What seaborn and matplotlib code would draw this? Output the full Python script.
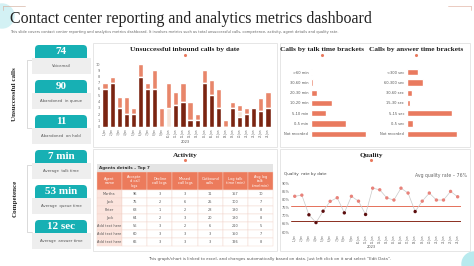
import matplotlib.pyplot as plt
import seaborn as sns
import numpy as np
import pandas as pd
from matplotlib.patches import Rectangle, FancyBboxPatch, Circle

sns.set_theme(style="white")
plt.rcParams['font.family'] = ['DejaVu Sans']

# ---- data ----
kpi_values = ["74", "90", "11", "7 min", "53 min", "12 sec"]
kpi_labels = ["Voicemail", "Abandoned  in queue", "Abandoned  on hold",
              "Average  talk time", "Average  queue time", "Average  answer time"]

bar_dates = ["1-Jan", "2-Jan", "3-Jan", "4-Jan", "5-Jan", "6-Jan", "7-Jan", "8-Jan",
             "9-Jan", "10-Jan", "11-Jan", "12-Jan", "13-Jan", "14-Jan", "15-Jan", "16-Jan",
             "17-Jan", "18-Jan", "19-Jan", "20-Jan", "21-Jan", "22-Jan", "23-Jan", "24-Jan"]
dark_calls = [6, 7, 3, 2, 2, 8, 6, 6, 0, 0, 3.5, 4, 1, 1, 7, 5, 3, 0, 3, 1.5, 2, 3, 2.5, 3]
pale_calls = [0, 0, 0, 0, 0, 0, 0, 0, 0, 3, 0, 0, 0, 0, 0, 0, 0, 0, 0, 1, 0, 0, 0, 0]
light_calls = [1, 1, 1.8, 2.8, 1, 2, 1, 3, 3, 4, 2, 3, 3, 1, 2, 2.5, 3, 1, 1, 1, 1, 0, 2, 2.5]

talk_brackets = [">60 min", "30-60 min", "20-30 min", "10-20 min", "5-10 min", "0-5 min", "Not recorded"]
talk_calls = [1, 3, 10, 37, 27, 63, 98]
answer_brackets = ["<300 sec", "60-300 sec", "30-60 sec", "15-30 sec", "5-15 sec", "0-5 sec", "Not recorded"]
answer_calls = [22, 31, 10, 6, 88, 12, 98]

table_cols = ["Agent\nname", "Accepte\nd call\nlogs", "Decline\ncall logs", "Missed\ncall logs",
              "Outbound\ncalls", "Log talk\ntime (min)", "Avg log\ntalk\ntime(min)"]
agents = ["Martha", "Jack", "Peter", "Jack", "Add text here", "Add text here", "Add text here"]
accepted = [96, 75, 63, 64, 56, 60, 66]
declined = [3, 2, 1, 2, 3, 3, 3]
missed = [3, 6, 2, 3, 2, 3, 3]
outbound = [11, 25, 28, 20, 6, 3, 3]
log_talk = [157, 100, 180, 180, 210, 150, 196]
avg_talk = [10, 7, 8, 8, 5, 7, 8]

q_dates = bar_dates
quality = [82, 82.7, 70.6, 65.8, 72.8, 78.9, 81.1, 71.8, 82, 79, 70.8, 87,
           86, 81, 79.7, 87, 84, 72.6, 79, 84, 79.7, 79.7, 85, 81.7]
avg_quality = 76
low_quality = 67

# ---- colours ----
teal = "#17b0b4"
dark_c, pale_c, light_c = "#7a2411", "#f6e4d8", "#e8866a"
bar_c = "#e97a5f"
W, H = 474, 266

fig = plt.figure(figsize=(4.74, 2.66), dpi=100)


def box(x0, y0, x1, y1):
    return [x0 / W, 1 - y1 / H, (x1 - x0) / W, (y1 - y0) / H]


deco = fig.add_axes([0, 0, 1, 1])
deco.set_xlim(0, W)
deco.set_ylim(H, 0)
deco.axis('off')

# decorations
deco.add_patch(Circle((2, 16), 12, color="#d3f1f4", zorder=0))
deco.add_patch(Circle((474, 264), 12, color="#b8eaee", zorder=0))
deco.plot([3, 25], [6, 6], color="#d8b6a6", lw=0.5)
deco.plot([3, 3], [6, 10], color="#d8b6a6", lw=0.5)
deco.plot([448, 471], [6, 6], color="#e3b6a8", lw=0.5)
deco.plot([471, 471], [6, 10], color="#e3b6a8", lw=0.5)

deco.text(10, 19, "Contact center reporting and analytics metrics dashboard",
          family="Liberation Serif", fontsize=11.4, color="#222222", va="center")
deco.text(10, 32, "This slide covers contact center reporting and analytics metrics dashboard. "
          "It involves metrics such as total unsuccessful calls, competence, activity, "
          "agent details and quality rate.", fontsize=2.6, color="#666666", va="center")

# KPI tiles
for i, (v, lab) in enumerate(zip(kpi_values, kpi_labels)):
    top = 45 + 35 * i
    deco.add_patch(FancyBboxPatch((35, top), 52, 17, boxstyle="round,pad=0,rounding_size=4",
                                  fc=teal, ec="none", zorder=2))
    deco.add_patch(Rectangle((32, top + 13), 59, 15.5, fc="#eeeeee", ec="none", zorder=3))
    deco.text(61, top + 6.8, v, family="Liberation Serif", weight="bold", fontsize=8,
              color="white", ha="center", va="center", zorder=4)
    deco.text(61, top + 20.8, lab, fontsize=2.8, color="#555555", ha="center", va="center", zorder=4)

for y0, y1, txt in [(60, 128, "Unsuccessful calls"), (165, 232, "Competence")]:
    deco.plot([32, 27, 27, 32], [y0, y0, y1, y1], color="#cccccc", lw=0.5)
    deco.text(15, (y0 + y1) / 2, txt, family="Liberation Serif", weight="bold", fontsize=5,
              rotation=90, ha="center", va="center", color="#222222")

# panels
for x0, y0, x1, y1 in [(93, 43, 277, 147), (280, 43, 470, 147), (93, 149, 277, 251), (280, 149, 470, 251)]:
    deco.add_patch(Rectangle((x0, y0), x1 - x0, y1 - y0, fc="white", ec="#e2e2e2", lw=0.6, zorder=1))

titles = [(185, 50, "Unsuccessful inbound calls by date"), (322, 50, "Calls by talk time brackets"),
          (416, 50, "Calls by answer time brackets"), (185, 155, "Activity"), (371, 155, "Quality")]
for x, y, t in titles:
    deco.text(x, y, t, family="Liberation Serif", weight="bold", fontsize=5.3,
              ha="center", va="center", color="#222222", zorder=5)
    deco.scatter([x], [y + 5], s=1.5, color=bar_c, zorder=5)

# stacked bars (overlaid cumulative totals)
calls = pd.DataFrame({"date": bar_dates, "dark": dark_calls, "pale": pale_calls, "light": light_calls})
calls["mid"] = calls["dark"] + calls["pale"]
calls["total"] = calls["mid"] + calls["light"]
ax1 = fig.add_axes(box(101.5, 64, 271.5, 126.5))
sns.barplot(data=calls, x="date", y="total", color=light_c, saturation=1, width=0.72, ax=ax1)
sns.barplot(data=calls, x="date", y="mid", color=pale_c, saturation=1, width=0.72, ax=ax1)
sns.barplot(data=calls, x="date", y="dark", color=dark_c, saturation=1, width=0.72, ax=ax1)
ax1.set_ylim(0, 10)
ax1.set_yticks(range(0, 11))
ax1.tick_params(axis="y", labelsize=2.5, pad=1, length=0, labelcolor="#666666")
ax1.tick_params(axis="x", labelsize=1.9, rotation=90, pad=1.5, length=0, labelcolor="#666666")
ax1.set_xlabel("")
ax1.set_ylabel("")
sns.despine(ax=ax1, left=True, bottom=True)
ax1.patch.set_alpha(0)
deco.text(185, 142, "2023", fontsize=2.6, ha="center", va="center", color="#555555", zorder=5)

# horizontal bracket bars
for rect, cats, vals in [((311, 67, 367, 139), talk_brackets, talk_calls),
                         ((407, 67, 458, 139), answer_brackets, answer_calls)]:
    ax = fig.add_axes(box(*rect))
    sns.barplot(x=vals, y=cats, orient="h", color=bar_c, saturation=1, width=0.6, ax=ax)
    ax.set_xlim(0, 100)
    ax.set_xticks([])
    ax.tick_params(axis="y", labelsize=2.6, pad=2, length=0, labelcolor="#555555")
    ax.set_xlabel("")
    ax.set_ylabel("")
    sns.despine(ax=ax, left=True, bottom=True)
    ax.patch.set_alpha(0)

# activity table
deco.add_patch(Rectangle((96.7, 164), 176.6, 8, fc="#e4e4e4", ec="none", zorder=5))
deco.text(99, 168, "Agents details \u2013 Top 7", fontsize=3, weight="bold", color="#333333",
          va="center", zorder=6)
ax_t = fig.add_axes(box(96.7, 172, 273.3, 246))
ax_t.axis("off")
rows = [[a, b, c, d, e, f, g] for a, b, c, d, e, f, g in
        zip(agents, accepted, declined, missed, outbound, log_talk, avg_talk)]
tbl = ax_t.table(cellText=rows, colLabels=table_cols, bbox=[0, 0, 1, 1], cellLoc="center")
tbl.auto_set_font_size(False)
tbl.set_fontsize(2.5)
for (r, c), cell in tbl.get_celld().items():
    cell.set_edgecolor("#f2d4ca")
    cell.set_linewidth(0.3)
    if r == 0:
        cell.set_height(0.24)
        cell.set_facecolor("#ec7b5c")
        cell.get_text().set_color("white")
        cell.get_text().set_fontsize(2.5)
    else:
        cell.set_height(0.105)
        cell.set_facecolor("#fbe4dd" if c == 0 else "white")
        cell.get_text().set_color("#555555")

# quality line
qdf = pd.DataFrame({"date": q_dates, "rate": quality})
qdf["below"] = np.where(qdf["rate"] < avg_quality, "low", "ok")
ax_q = fig.add_axes(box(291.2, 183.3, 461.2, 232))
ax_q.axhline(avg_quality, color="#e5705a", lw=0.7)
ax_q.axhline(low_quality, color="#8b2e1e", lw=0.7)
sns.lineplot(data=qdf, x="date", y="rate", color="#c9c9c9", lw=0.5, sort=False, ax=ax_q)
sns.scatterplot(data=qdf, x="date", y="rate", hue="below", palette={"ok": "#e8827a", "low": "#5c0e0e"},
                s=6, linewidth=0, legend=False, ax=ax_q, zorder=3)
ax_q.set_xlim(-0.5, len(q_dates) - 0.5)
ax_q.set_ylim(60, 90)
ax_q.set_yticks(range(60, 91, 5))
ax_q.set_yticklabels([f"{v}%" for v in range(60, 91, 5)])
ax_q.tick_params(axis="y", labelsize=2.5, pad=1, length=0, labelcolor="#666666")
ax_q.tick_params(axis="x", labelsize=1.9, rotation=90, pad=1.5, length=0, labelcolor="#666666")
ax_q.set_xlabel("")
ax_q.set_ylabel("")
sns.despine(ax=ax_q, left=True, bottom=True)
ax_q.patch.set_alpha(0)
deco.text(284, 174, "Quality  rate by date", fontsize=3, color="#444444", va="center", zorder=5)
deco.text(467, 175, "Avg quality rate \u2013 76%", fontsize=3.3, color="#666666", ha="right", va="center", zorder=5)
deco.text(371, 246.5, "2023", fontsize=2.6, ha="center", va="center", color="#555555", zorder=5)

deco.text(270, 259, "This graph/chart is linked to excel, and changes automatically based on data. "
          "Just left click on it and select \u201cEdit Data\u201d.", fontsize=2.9, color="#555555",
          ha="center", va="center")

fig.savefig("out.png", dpi=100)
